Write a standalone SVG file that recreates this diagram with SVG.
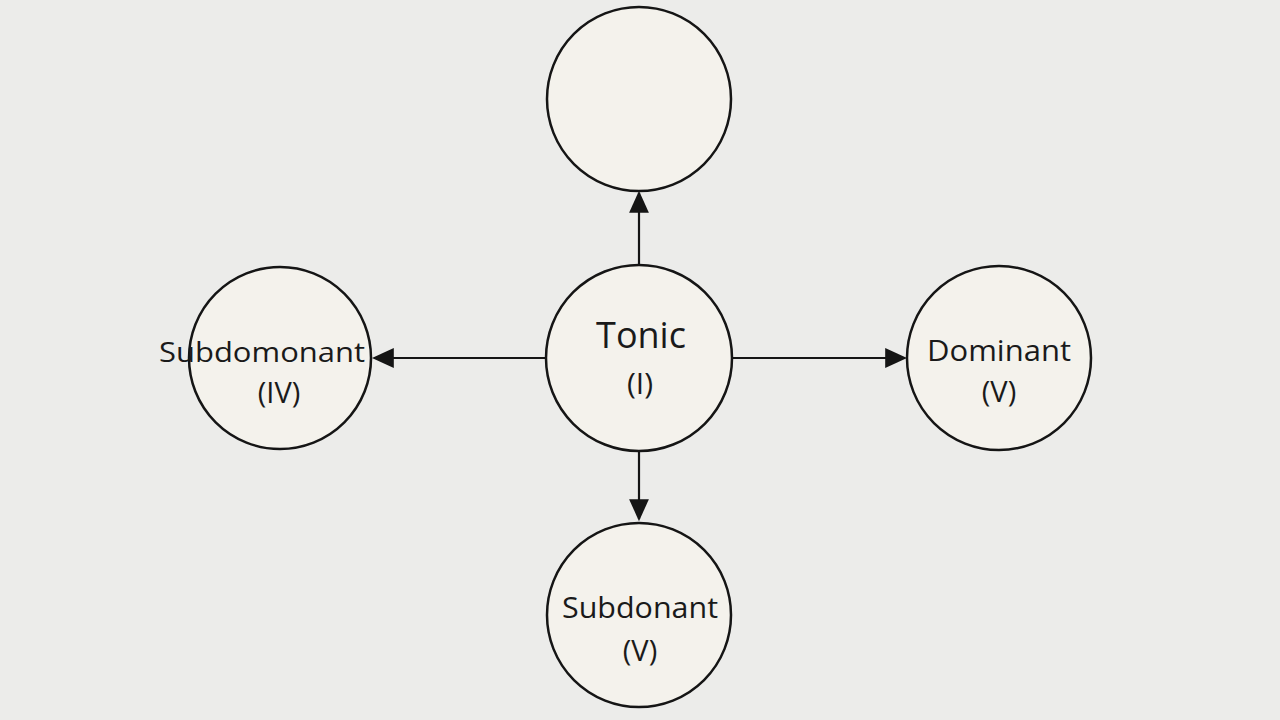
<svg xmlns="http://www.w3.org/2000/svg" width="1280" height="720" viewBox="0 0 1280 720">
<style>
.n{fill:#f4f2ec;stroke:#151515;stroke-width:2.5}
.t{font-family:"Open Sans","Liberation Sans",sans-serif;fill:#1a1a1a;text-anchor:middle}
.c{stroke:#151515;stroke-width:2.2;fill:none;marker-end:url(#b)}
</style>
<defs>
<marker id="b" viewBox="0 0 10 10" refX="9" refY="5" markerWidth="22" markerHeight="22" markerUnits="userSpaceOnUse" orient="auto"><path d="M0,0.5L10,5L0,9.5z" fill="#151515"/></marker></defs>
<rect width="1280" height="720" fill="#ececea"/>
<g id="connectors">
<path class="c" d="M639,265V193"/>
<path class="c" d="M546,358H374"/>
<path class="c" d="M733,358H905"/>
<path class="c" d="M639,451V519"/>
</g>
<g id="top"><circle class="n" cx="639" cy="99" r="92"/></g>
<g id="tonic"><circle class="n" cx="639" cy="358" r="93"/>
<text class="t" x="641" y="348" font-size="36">Tonic</text><text class="t" x="640" y="394" font-size="30">(I)</text></g>
<g id="subdominant"><circle class="n" cx="280" cy="358" r="91"/>
<text class="t" x="262" y="362" font-size="28" textLength="206" lengthAdjust="spacingAndGlyphs">Subdomonant</text><text class="t" x="279" y="403" font-size="29">(IV)</text></g>
<g id="dominant"><circle class="n" cx="999" cy="358" r="92"/>
<text class="t" x="999" y="361" font-size="30" textLength="144" lengthAdjust="spacingAndGlyphs">Dominant</text><text class="t" x="999" y="402" font-size="29">(V)</text></g>
<g id="bottom"><circle class="n" cx="639" cy="615" r="92"/>
<text class="t" x="640" y="618" font-size="30" textLength="156" lengthAdjust="spacingAndGlyphs">Subdonant</text><text class="t" x="640" y="661" font-size="29">(V)</text></g>
</svg>
